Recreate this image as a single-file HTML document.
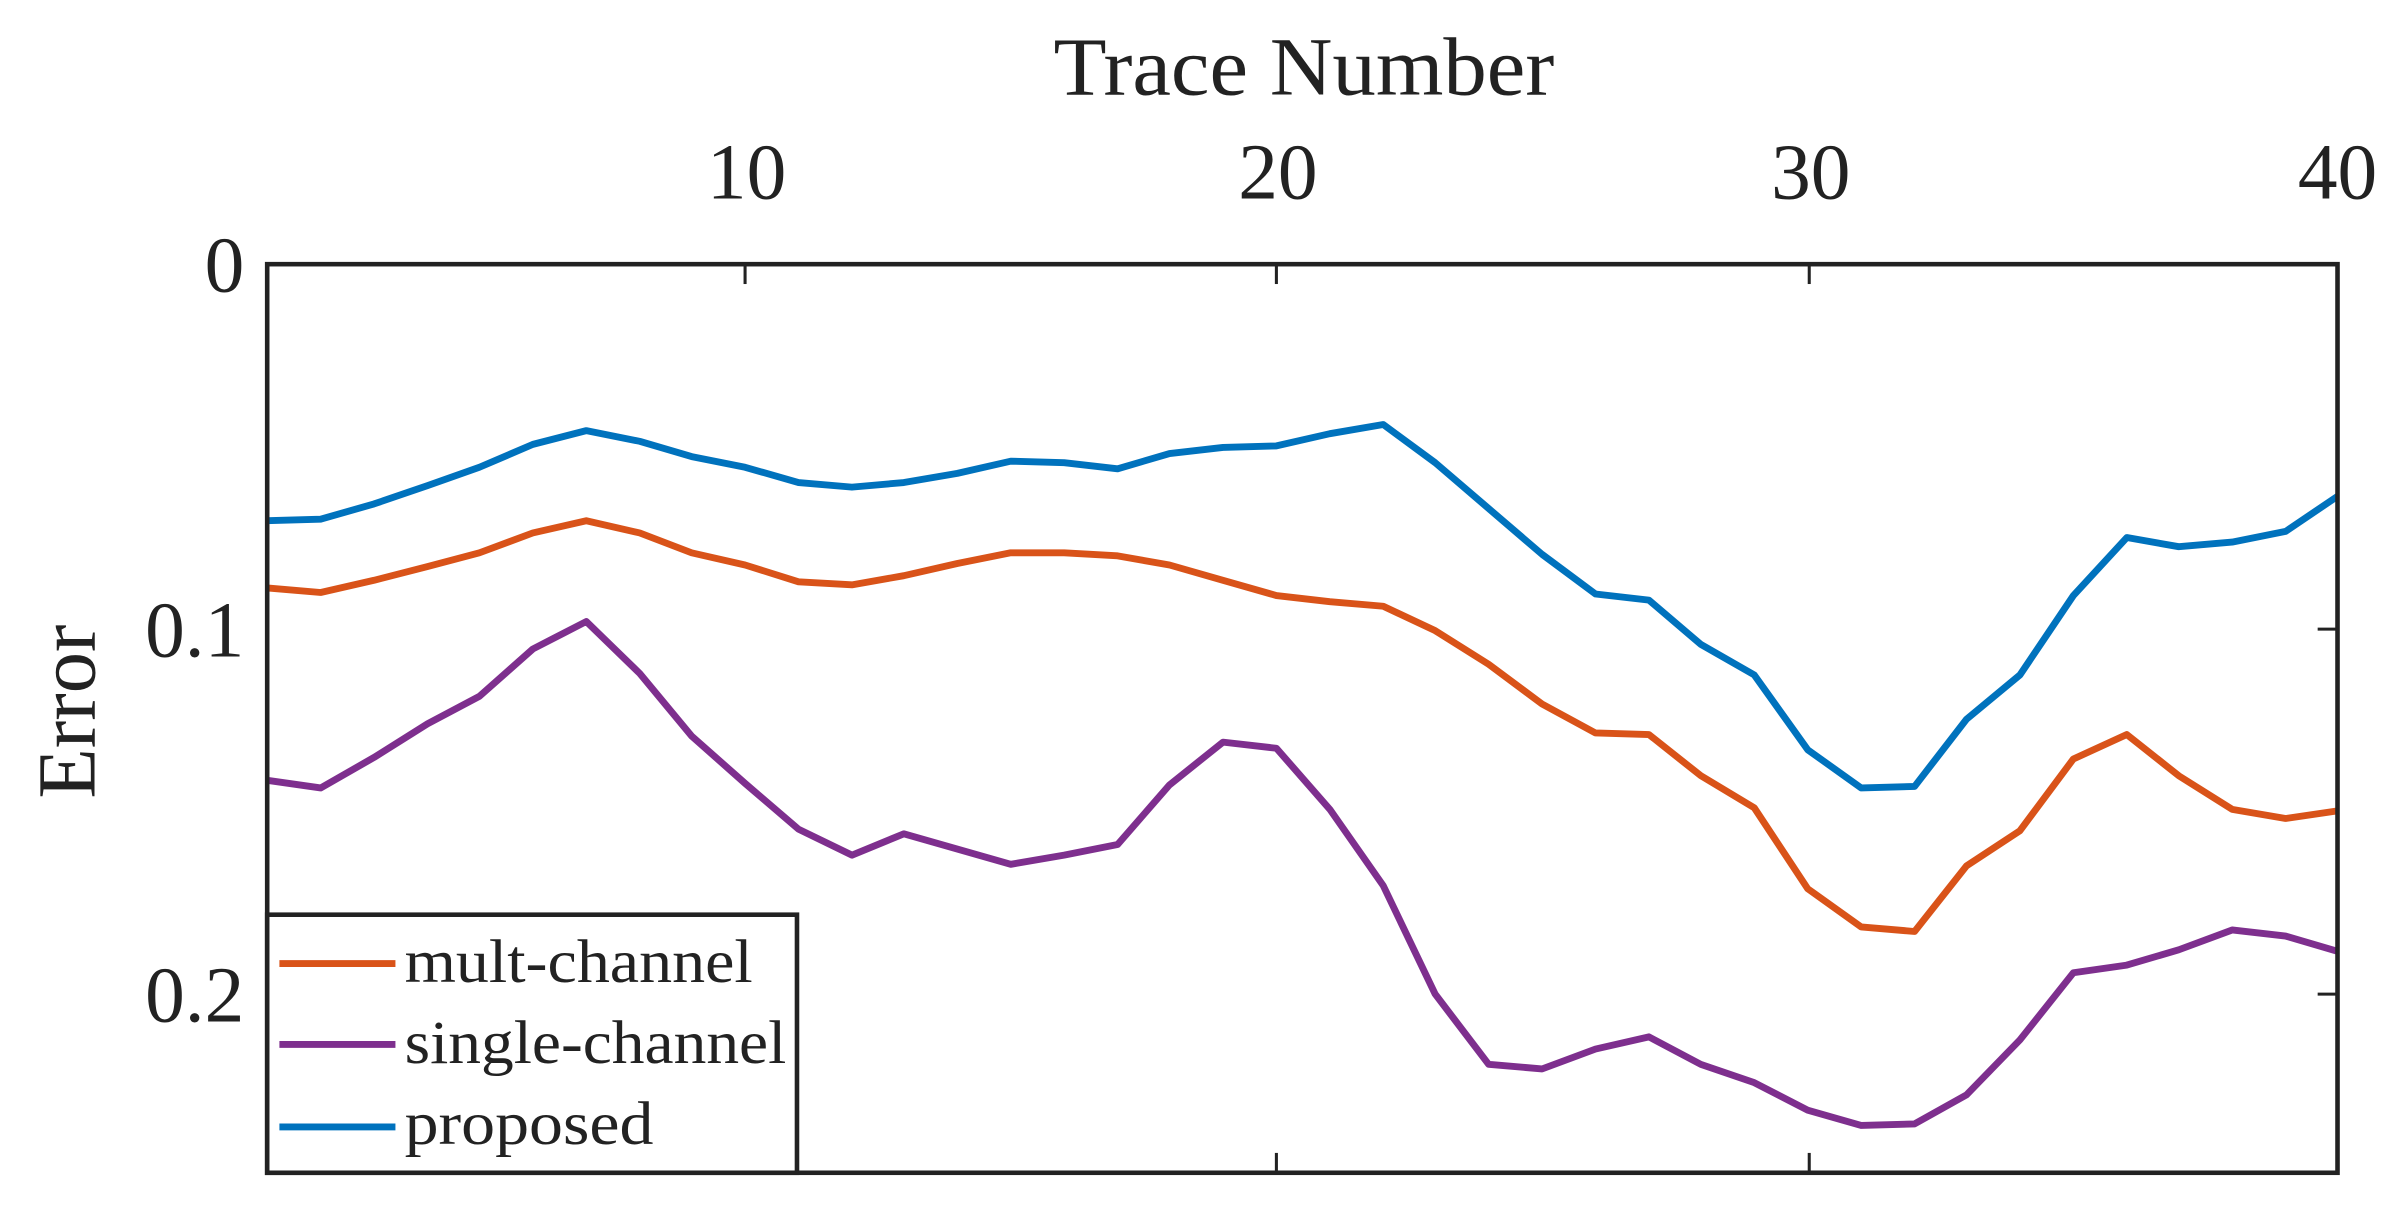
<!DOCTYPE html>
<html><head><meta charset="utf-8"><style>
html,body{margin:0;padding:0;background:#fff;}
svg{display:block;}
text{font-family:"Liberation Serif",serif;fill:#222;}
</style></head><body>
<svg width="2394" height="1214" viewBox="0 0 1568 795" preserveAspectRatio="none" xmlns="http://www.w3.org/2000/svg">
<rect width="1568" height="795" fill="#fff"/>
<text x="690" y="62" font-size="54" textLength="328" lengthAdjust="spacingAndGlyphs">Trace Number</text>
<g font-size="52" text-anchor="middle">
<text x="489" y="130">10</text><text x="837" y="130">20</text><text x="1186" y="130">30</text><text x="1531" y="130">40</text>
</g>
<g font-size="52" text-anchor="end">
<text x="160" y="191">0</text><text x="160" y="430">0.1</text><text x="160" y="669">0.2</text>
</g>
<text transform="translate(62,466) rotate(-90)" font-size="54" text-anchor="middle">Error</text>
<g stroke="#222" stroke-width="2">
<line x1="488" y1="173" x2="488" y2="186"/><line x1="836" y1="173" x2="836" y2="186"/><line x1="1185" y1="173" x2="1185" y2="186"/>
<line x1="488" y1="768" x2="488" y2="755"/><line x1="836" y1="768" x2="836" y2="755"/><line x1="1185" y1="768" x2="1185" y2="755"/>
<line x1="1531" y1="412" x2="1518" y2="412"/><line x1="1531" y1="651" x2="1518" y2="651"/>
</g>
<g fill="none" stroke-width="4.5" stroke-linejoin="round">
<polyline stroke="#0072BD" points="175,341 210,340 245,330 280,318 314,306 349,291 384,282 419,289 453,299 488,306 523,316 558,319 592,316 627,310 662,302 697,303 732,307 766,297 801,293 836,292 871,284 906,278 940,303 975,333 1010,363 1045,389 1080,393 1114,422 1149,442 1184,491 1219,516 1254,515 1288,471 1323,442 1358,390 1393,352 1427,358 1462,355 1497,348 1531,325"/>
<polyline stroke="#D95319" points="175,385 210,388 245,380 280,371 314,362 349,349 384,341 419,349 453,362 488,370 523,381 558,383 592,377 627,369 662,362 697,362 732,364 766,370 801,380 836,390 871,394 906,397 940,413 975,435 1010,461 1045,480 1080,481 1114,508 1149,529 1184,582 1219,607 1254,610 1288,567 1323,544 1358,497 1393,481 1427,508 1462,530 1497,536 1531,531"/>
<polyline stroke="#7E2F8E" points="175,511 210,516 245,496 280,474 314,456 349,425 384,407 419,441 453,482 488,513 523,543 558,560 592,546 627,556 662,566 697,560 732,553 766,514 801,486 836,490 871,530 906,580 940,651 975,697 1010,700 1045,687 1080,679 1114,697 1149,709 1184,727 1219,737 1254,736 1288,717 1323,681 1358,637 1393,632 1427,622 1462,609 1497,613 1531,623"/>
</g>
<rect x="175" y="173" width="1356" height="595" fill="none" stroke="#222" stroke-width="3"/>
<rect x="175" y="599" width="347" height="169" fill="#fff" stroke="#222" stroke-width="3"/>
<g stroke-width="4.5">
<line x1="183" y1="631" x2="259" y2="631" stroke="#D95319"/>
<line x1="183" y1="684" x2="259" y2="684" stroke="#7E2F8E"/>
<line x1="183" y1="738" x2="259" y2="738" stroke="#0072BD"/>
</g>
<g font-size="40">
<text x="265" y="643" textLength="228" lengthAdjust="spacingAndGlyphs">mult-channel</text>
<text x="265" y="696" textLength="250" lengthAdjust="spacingAndGlyphs">single-channel</text>
<text x="265" y="749" textLength="163" lengthAdjust="spacingAndGlyphs">proposed</text>
</g>
</svg>
</body></html>
